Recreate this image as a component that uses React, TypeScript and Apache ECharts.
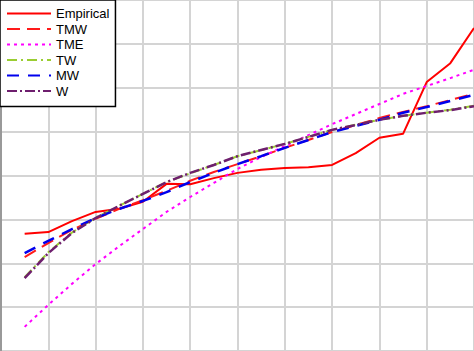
import React, { useEffect, useRef } from "react";
import * as echarts from "echarts";

const xValues = [1, 2, 3, 4, 5, 6, 7, 8, 9, 10, 11, 12, 13, 14, 15, 16, 17, 18, 19, 20];
const empirical = [2.67, 2.71, 2.96, 3.17, 3.24, 3.40, 3.81, 3.80, 3.94, 4.06, 4.13, 4.17, 4.19, 4.24, 4.51, 4.86, 4.95, 6.13, 6.56, 7.36];
const tmw = [2.14, 2.46, 2.76, 3.01, 3.24, 3.44, 3.65, 3.88, 4.08, 4.26, 4.44, 4.63, 4.81, 4.99, 5.15, 5.31, 5.45, 5.58, 5.72, 5.86];
const tme = [0.55, 1.05, 1.53, 1.98, 2.39, 2.78, 3.17, 3.51, 3.83, 4.15, 4.42, 4.67, 4.92, 5.17, 5.40, 5.63, 5.86, 6.04, 6.22, 6.41];
const tw = [1.68, 2.25, 2.70, 3.04, 3.31, 3.58, 3.85, 4.05, 4.24, 4.44, 4.58, 4.72, 4.88, 5.04, 5.16, 5.27, 5.36, 5.43, 5.50, 5.59];
const mw = [2.23, 2.51, 2.78, 3.03, 3.24, 3.42, 3.62, 3.85, 4.06, 4.26, 4.44, 4.63, 4.81, 4.99, 5.13, 5.27, 5.43, 5.56, 5.70, 5.84];
const w = [1.66, 2.23, 2.69, 3.03, 3.31, 3.58, 3.85, 4.06, 4.24, 4.44, 4.58, 4.72, 4.88, 5.04, 5.15, 5.27, 5.36, 5.43, 5.49, 5.58];

const seriesNames = ["Empirical", "TMW", "TME", "TW", "MW", "W"];

function pairs(ys: number[]) {
  return xValues.map((x, i) => [x, ys[i]]);
}

export default function App() {
  const ref = useRef<HTMLDivElement>(null);
  useEffect(() => {
    if (!ref.current) return;
    const chart = echarts.init(ref.current, null, { renderer: "svg" });
    const mk = (name: string, data: number[], color: string, type: any, width: number) => ({
      name,
      type: "line",
      data: pairs(data),
      symbol: "none",
      lineStyle: { color, type, width },
      itemStyle: { color },
    });
    chart.setOption({
      animation: false,
      backgroundColor: "#ffffff",
      grid: { left: 1, right: 0, top: 0, bottom: 0 },
      xAxis: {
        type: "value",
        min: 0,
        max: 20,
        interval: 2,
        axisLabel: { show: false },
        axisTick: { show: false },
        axisLine: { show: false },
        splitLine: { show: true, lineStyle: { color: "#d4d4d4", width: 2 } },
      },
      yAxis: {
        type: "value",
        min: 0,
        max: 8,
        interval: 1,
        axisLabel: { show: false },
        axisTick: { show: false },
        axisLine: { show: true, lineStyle: { color: "#999999", width: 2 } },
        splitLine: { show: true, lineStyle: { color: "#d4d4d4", width: 2 } },
      },
      legend: {
        data: seriesNames,
        orient: "vertical",
        left: 0,
        top: 0,
        padding: [7, 6, 9, 6],
        itemWidth: 44,
        itemHeight: 12,
        itemGap: 2.5,
        backgroundColor: "#ffffff",
        borderColor: "#000000",
        borderWidth: 1.5,
        borderRadius: 0,
        itemStyle: { opacity: 0 },
        textStyle: { fontFamily: "Liberation Sans, Arial, sans-serif", fontSize: 13, color: "#000000" },
      },
      series: [
        mk("Empirical", empirical, "#ff0000", "solid", 2),
        mk("TMW", tmw, "#ff1a1a", [13, 7], 2),
        mk("TME", tme, "#ff00ff", [3, 4], 2),
        mk("TW", tw, "#9acd32", [10, 4, 2, 4], 2),
        mk("MW", mw, "#0000ee", [12, 9], 2.5),
        mk("W", w, "#6e1f6e", [10, 3, 2, 3], 2.5),
      ],
    });
    return () => chart.dispose();
  }, []);
  return (
    <div
      ref={ref}
      style={{ position: "fixed", left: 0, top: 0, width: 474, height: 351, background: "#fff" }}
    />
  );
}
